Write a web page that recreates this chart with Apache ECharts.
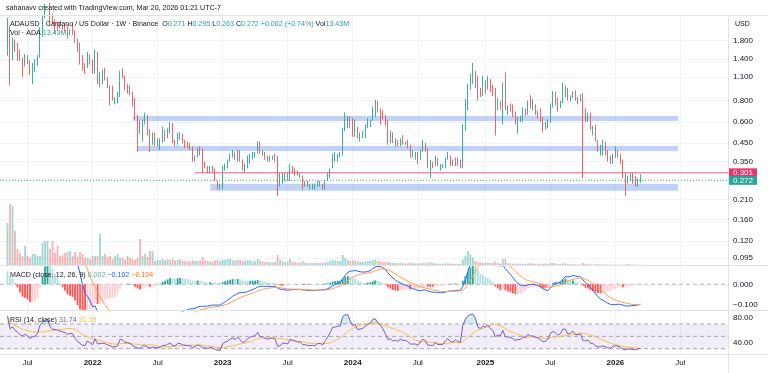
<!DOCTYPE html>
<html><head><meta charset="utf-8">
<script src="https://cdn.jsdelivr.net/npm/echarts@6/dist/echarts.min.js"></script>
<style>html,body{margin:0;padding:0;background:#fff}#c{width:768px;height:373px}</style>
</head><body><div id="c"></div>
<script>
// ---------------- DATA ----------------
// weekly candles ADAUSD, first week 2021-05-10 ... last week 2026-03-16 : [open, high, low, close]
const weeklyOHLC = [
[1.63,2.46,1.47,2.07],[2.07,2.20,0.98,1.63],[1.63,1.88,1.38,1.77],[1.77,1.83,1.55,1.62],[1.62,1.75,1.37,1.52],
[1.52,1.60,1.37,1.40],[1.40,1.44,1.10,1.32],[1.32,1.50,1.27,1.42],[1.42,1.48,1.31,1.34],[1.34,1.38,1.13,1.18],
[1.18,1.33,1.00,1.28],[1.28,1.40,1.18,1.32],[1.32,1.48,1.28,1.45],[1.45,2.16,1.43,2.10],[2.10,2.55,1.90,2.45],
[2.45,2.97,2.45,2.80],[2.80,3.10,2.55,2.86],[2.86,3.00,2.20,2.45],[2.45,2.60,2.25,2.30],[2.30,2.40,2.00,2.28],
[2.28,2.32,2.05,2.25],[2.25,2.32,2.12,2.18],[2.18,2.22,2.08,2.15],[2.15,2.25,2.05,2.10],[2.10,2.25,1.85,2.00],
[2.00,2.10,1.93,2.06],[2.06,2.30,1.95,2.05],[2.05,2.07,1.75,1.80],[1.80,1.85,1.55,1.57],[1.57,1.75,1.30,1.42],
[1.42,1.48,1.20,1.27],[1.27,1.33,1.15,1.26],[1.26,1.55,1.24,1.48],[1.48,1.50,1.30,1.33],[1.33,1.40,1.15,1.19],
[1.19,1.60,1.15,1.50],[1.50,1.55,1.00,1.08],[1.08,1.18,0.96,1.10],[1.10,1.22,1.00,1.12],[1.12,1.25,1.05,1.08],
[1.08,1.10,0.95,0.97],[0.97,0.98,0.75,0.93],[0.93,0.98,0.80,0.81],[0.81,0.84,0.76,0.82],[0.82,0.90,0.77,0.85],
[0.85,1.20,0.84,1.15],[1.15,1.24,1.08,1.10],[1.10,1.12,0.92,0.95],[0.95,1.00,0.88,0.93],[0.93,0.99,0.86,0.88],
[0.88,0.90,0.74,0.76],[0.76,0.83,0.62,0.63],[0.63,0.66,0.40,0.56],[0.56,0.61,0.51,0.52],[0.52,0.62,0.46,0.60],
[0.60,0.68,0.58,0.61],[0.61,0.66,0.50,0.53],[0.53,0.54,0.40,0.46],[0.46,0.52,0.44,0.49],[0.49,0.52,0.43,0.45],
[0.45,0.48,0.43,0.45],[0.45,0.48,0.41,0.46],[0.46,0.56,0.45,0.51],[0.51,0.54,0.46,0.50],[0.50,0.55,0.48,0.53],
[0.53,0.60,0.51,0.56],[0.56,0.59,0.45,0.46],[0.46,0.47,0.43,0.45],[0.45,0.52,0.44,0.50],[0.50,0.52,0.47,0.50],
[0.50,0.51,0.45,0.45],[0.45,0.47,0.42,0.44],[0.44,0.46,0.42,0.43],[0.43,0.45,0.41,0.42],[0.42,0.43,0.35,0.37],
[0.37,0.38,0.35,0.38],[0.38,0.42,0.37,0.41],[0.41,0.43,0.38,0.38],[0.38,0.42,0.30,0.33],[0.33,0.35,0.32,0.32],
[0.32,0.33,0.30,0.31],[0.31,0.33,0.30,0.32],[0.32,0.33,0.30,0.31],[0.31,0.32,0.27,0.27],[0.27,0.27,0.24,0.25],
[0.25,0.26,0.24,0.25],[0.25,0.33,0.24,0.32],[0.32,0.34,0.31,0.34],[0.34,0.36,0.32,0.35],[0.35,0.39,0.35,0.38],
[0.38,0.41,0.37,0.39],[0.39,0.40,0.36,0.37],[0.37,0.41,0.35,0.40],[0.40,0.41,0.35,0.36],[0.36,0.36,0.31,0.32],
[0.32,0.34,0.30,0.33],[0.33,0.38,0.32,0.36],[0.36,0.39,0.34,0.38],[0.38,0.40,0.36,0.39],[0.39,0.40,0.37,0.40],
[0.40,0.46,0.39,0.44],[0.44,0.46,0.39,0.39],[0.39,0.41,0.38,0.39],[0.39,0.40,0.36,0.37],[0.37,0.38,0.35,0.36],
[0.36,0.38,0.35,0.37],[0.37,0.38,0.36,0.37],[0.37,0.39,0.35,0.36],[0.36,0.38,0.22,0.26],[0.26,0.30,0.25,0.27],
[0.27,0.30,0.26,0.29],[0.29,0.30,0.27,0.29],[0.29,0.30,0.27,0.28],[0.28,0.34,0.27,0.32],[0.32,0.33,0.30,0.31],
[0.31,0.32,0.29,0.30],[0.30,0.31,0.29,0.29],[0.29,0.30,0.28,0.29],[0.29,0.29,0.24,0.26],[0.26,0.27,0.25,0.26],
[0.26,0.27,0.25,0.25],[0.25,0.26,0.24,0.25],[0.25,0.26,0.24,0.25],[0.25,0.26,0.24,0.25],[0.25,0.27,0.25,0.26],
[0.26,0.27,0.25,0.26],[0.26,0.26,0.24,0.25],[0.25,0.27,0.24,0.27],[0.27,0.30,0.27,0.29],[0.29,0.32,0.28,0.32],
[0.32,0.39,0.32,0.37],[0.37,0.40,0.35,0.37],[0.37,0.39,0.35,0.38],[0.38,0.40,0.37,0.38],[0.38,0.55,0.38,0.55],
[0.55,0.68,0.53,0.61],[0.61,0.65,0.55,0.62],[0.62,0.65,0.55,0.57],[0.57,0.63,0.49,0.53],[0.53,0.62,0.49,0.55],
[0.55,0.56,0.48,0.50],[0.50,0.52,0.46,0.51],[0.51,0.53,0.48,0.52],[0.52,0.58,0.48,0.56],[0.56,0.63,0.55,0.59],
[0.59,0.62,0.56,0.62],[0.62,0.74,0.61,0.72],[0.72,0.81,0.64,0.74],[0.74,0.80,0.68,0.70],[0.70,0.72,0.58,0.68],
[0.68,0.70,0.62,0.64],[0.64,0.66,0.57,0.58],[0.58,0.62,0.44,0.48],[0.48,0.53,0.45,0.49],[0.49,0.52,0.45,0.45],
[0.45,0.48,0.43,0.46],[0.46,0.47,0.43,0.44],[0.44,0.48,0.43,0.47],[0.47,0.50,0.44,0.45],[0.45,0.46,0.44,0.45],
[0.45,0.47,0.42,0.43],[0.43,0.44,0.37,0.39],[0.39,0.41,0.37,0.39],[0.39,0.40,0.36,0.39],[0.39,0.40,0.34,0.37],
[0.37,0.41,0.36,0.40],[0.40,0.47,0.40,0.43],[0.43,0.45,0.40,0.41],[0.41,0.42,0.32,0.34],[0.34,0.36,0.28,0.34],
[0.34,0.35,0.32,0.33],[0.33,0.38,0.33,0.36],[0.36,0.37,0.33,0.33],[0.33,0.34,0.31,0.33],[0.33,0.34,0.32,0.33],
[0.33,0.37,0.32,0.36],[0.36,0.40,0.36,0.38],[0.38,0.38,0.33,0.35],[0.35,0.36,0.33,0.34],[0.34,0.37,0.33,0.36],
[0.36,0.37,0.33,0.34],[0.34,0.36,0.32,0.33],[0.33,0.58,0.32,0.57],[0.57,0.82,0.53,0.78],[0.78,1.00,0.70,0.98],
[0.98,1.15,0.93,1.10],[1.10,1.33,1.00,1.15],[1.15,1.20,0.95,1.08],[1.08,1.12,0.80,0.90],[0.90,0.95,0.84,0.86],
[0.86,1.12,0.85,0.98],[0.98,1.05,0.88,0.95],[0.95,1.12,0.93,1.05],[1.05,1.07,0.90,0.96],[0.96,0.99,0.85,0.92],
[0.92,0.95,0.50,0.72],[0.72,0.83,0.70,0.79],[0.79,0.80,0.71,0.75],[0.75,1.02,0.58,0.98],[0.98,1.17,0.70,0.73],
[0.73,0.75,0.66,0.73],[0.73,0.77,0.69,0.71],[0.71,0.76,0.64,0.66],[0.66,0.69,0.58,0.59],[0.59,0.64,0.51,0.62],
[0.62,0.65,0.60,0.62],[0.62,0.73,0.60,0.70],[0.70,0.72,0.65,0.67],[0.67,0.80,0.66,0.78],[0.78,0.86,0.72,0.73],
[0.73,0.82,0.70,0.73],[0.73,0.76,0.66,0.69],[0.69,0.70,0.63,0.68],[0.68,0.72,0.60,0.62],[0.62,0.64,0.52,0.56],
[0.56,0.60,0.54,0.57],[0.57,0.62,0.55,0.61],[0.61,0.77,0.59,0.77],[0.77,0.91,0.73,0.83],[0.83,0.90,0.75,0.80],
[0.80,0.83,0.69,0.74],[0.74,0.80,0.72,0.78],[0.78,1.02,0.77,0.93],[0.93,0.98,0.84,0.93],[0.93,0.95,0.80,0.81],
[0.81,0.86,0.79,0.84],[0.84,0.91,0.83,0.90],[0.90,0.92,0.80,0.82],[0.82,0.84,0.76,0.81],[0.81,0.87,0.79,0.84],
[0.84,0.89,0.28,0.66],[0.66,0.72,0.60,0.64],[0.64,0.68,0.60,0.66],[0.66,0.68,0.54,0.55],[0.55,0.57,0.50,0.55],
[0.55,0.58,0.46,0.46],[0.46,0.47,0.40,0.42],[0.42,0.44,0.38,0.42],[0.42,0.47,0.38,0.44],[0.44,0.46,0.38,0.40],
[0.40,0.41,0.35,0.37],[0.37,0.38,0.34,0.35],[0.35,0.39,0.34,0.38],[0.38,0.43,0.37,0.39],[0.39,0.41,0.37,0.38],
[0.38,0.39,0.34,0.35],[0.35,0.36,0.28,0.29],[0.29,0.30,0.22,0.27],[0.27,0.29,0.26,0.28],[0.28,0.30,0.27,0.28],
[0.28,0.30,0.26,0.27],[0.27,0.29,0.25,0.26],[0.26,0.28,0.25,0.270],[0.271,0.295,0.263,0.272]
];
// weekly volume, millions of ADA
const weeklyVolume = [
430,620,600,350,170,130,100,200,100,80, 120,120,100,100,230,250,250,170,250,130,
200,100,110,130,140,150,100,140,90,140, 120,80,80,70,100,100,100,320,100,120,
90,100,70,100,120,80,80,60,100,80, 70,60,80,270,100,120,90,150,150,50,
60,55,70,60,65,60,70,55,60,70,55,50,50,45,60,50,50,55,90,60,50,45,45,55,60,50,
60,65,70,75,60,55,65,60,50,55,60,55,45,50,70,55,45,40,40,35,35,40,
110,60,45,40,40,70,45,40,35,35,50,35,30,30,30,30,30,30,35,35,45,50,60,
55,50,50,110,80,60,50,55,50,45,40,40,45,50,55,60,65,50,45,40,
40,45,35,30,30,25,30,28,25,25,35,30,25,25,25,30,28,30,40,28,25,25,22,22,25,28,25,22,22,22,20,
67,100,150,117,83,50,40,35,30,35,35,30,30,45,30,25,70,70,
30,25,22,22,25,20,22,20,25,30,25,22,20,20,22,25,20,30,30,25,22,20,28,25,20,18,18,18,16,16,
30,22,18,18,16,18,20,16,15,16,15,14,13,14,15,14,13,16,20,16,14,13,12,13.43
];
// indicator state carried in from before the first drawn week (estimated from the panes)
const indicatorSeed = { ema12: 1.35, ema26: 1.0, signal: 0.30, avgGain: 0.06, avgLoss: 0.02 };
const firstWeek = [2021, 3, 19];      // first category (3 weeks before the first candle)
const weeksBeforeData = 3;
const totalWeeks = 292;               // axis runs on into Nov 2026
const priceTicks = [1.8, 1.4, 1.1, 0.8, 0.6, 0.45, 0.35, 0.21, 0.16, 0.12, 0.095];
const macdTicks = [0, -0.1];
const rsiTicks = [80, 40];
const rsiLevels = [70, 50, 30];
const zones = [            // [from week, to week, low, high]
  ['2022-04-25', '2026-06-29', 0.607, 0.650],
  ['2022-05-09', '2026-06-29', 0.405, 0.433],
  ['2022-11-28', '2026-06-29', 0.236, 0.259]
];
const resistanceRay = ['2022-10-17', 0.301];
const lastPrice = 0.272;

// ---------------- BUILD ----------------
const categories = [];
for (let i = 0; i < totalWeeks; i++) {
  const d = new Date(Date.UTC(firstWeek[0], firstWeek[1], firstWeek[2]) + i * 7 * 86400000);
  categories.push(d.toISOString().slice(0, 10));
}
const lastCat = categories[categories.length - 1];
const closes = weeklyOHLC.map(r => r[3]);
function ema(src, n, seed) { const k = 2 / (n + 1); const o = []; src.forEach((v, i) => { const prev = i === 0 ? seed : o[i - 1]; o.push(v * k + prev * (1 - k)); }); return o; }
function rsiCalc(src, n, g0, l0, firstOpen) {
  const o = []; let ag = g0, al = l0;
  for (let i = 0; i < src.length; i++) {
    const ch = src[i] - (i === 0 ? firstOpen : src[i - 1]), g = Math.max(ch, 0), l = Math.max(-ch, 0);
    ag = (ag * (n - 1) + g) / n; al = (al * (n - 1) + l) / n;
    o.push(al === 0 ? 100 : 100 - 100 / (1 + ag / al));
  }
  return o;
}
function sma(src, n) { return src.map((v, i) => { const w = src.slice(Math.max(0, i - n + 1), i + 1); return w.reduce((a, b) => a + b, 0) / w.length; }); }
const e12 = ema(closes, 12, indicatorSeed.ema12), e26 = ema(closes, 26, indicatorSeed.ema26);
const macd = e12.map((v, i) => v - e26[i]);
const signal = ema(macd, 9, indicatorSeed.signal);
const hist = macd.map((v, i) => v - signal[i]);
const rsi = rsiCalc(closes, 14, indicatorSeed.avgGain, indicatorSeed.avgLoss, weeklyOHLC[0][0]);
const rsiMa = sma(rsi, 14);

const at = i => i + weeksBeforeData;
const candleData = weeklyOHLC.map((r, i) => [at(i), r[0], r[3], r[2], r[1]]);
const volData = weeklyVolume.map((v, i) => ({ value: [at(i), v], itemStyle: { color: weeklyOHLC[i][3] >= weeklyOHLC[i][0] ? 'rgba(38,166,154,0.45)' : 'rgba(239,83,80,0.45)' } }));
const histData = hist.map((v, i) => {
  const p = i > 0 ? hist[i - 1] : v;
  const c = v >= 0 ? (v > p ? '#26a69a' : '#b2dfdb') : (v < p ? '#ff5252' : '#ffcdd2');
  return { value: [at(i), v], itemStyle: { color: c } };
});
const pair = arr => arr.map((v, i) => [at(i), v == null ? '-' : v]);

const isLabelWeek = (idx, val) => { const d = new Date(val + 'T00:00:00Z'); return (d.getUTCMonth() === 0 || d.getUTCMonth() === 6) && d.getUTCDate() <= 7; };
const fmtDate = val => { const d = new Date(val + 'T00:00:00Z'); return d.getUTCMonth() === 0 ? '{y|' + d.getUTCFullYear() + '}' : 'Jul'; };
const FONT = "'Liberation Sans', Arial, sans-serif";
const TXT = '#131722';

const grids = [
  { left: 0, right: 40, top: 16, height: 250 },
  { left: 0, right: 40, top: 16, height: 250 },
  { left: 0, right: 40, top: 266, height: 45 },
  { left: 0, right: 40, top: 311, height: 44 }
].map(g => Object.assign(g, { containLabel: false, outerBoundsMode: 'none' }));

const xAxes = [0, 1, 2, 3].map(gi => ({
  type: 'category', gridIndex: gi, data: categories, boundaryGap: false,
  axisLine: { show: false }, axisTick: { show: false },
  axisLabel: { show: gi === 3, interval: isLabelWeek, formatter: fmtDate, color: TXT, fontSize: 8, fontFamily: FONT, margin: 4,
    rich: { y: { fontWeight: 'bold', fontSize: 8, color: TXT, fontFamily: FONT } } },
  splitLine: { show: gi !== 1, interval: isLabelWeek, lineStyle: { color: '#f0f3fa', width: 1 } }
}));

const yLabel = (vals, fmt) => ({ show: true, customValues: vals, formatter: fmt, color: TXT, fontSize: 8, fontFamily: FONT, margin: 5 });
const yAxes = [
  { type: 'log', logBase: 10, gridIndex: 0, position: 'right', min: 0.0853, max: 2.515,
    axisLine: { show: false }, axisTick: { show: false, customValues: priceTicks },
    axisLabel: yLabel(priceTicks, v => (+v).toFixed(3)),
    splitLine: { show: true, lineStyle: { color: '#f0f3fa' } } },
  { type: 'value', gridIndex: 1, min: 0, max: 2500, show: false, splitLine: { show: false } },
  { type: 'value', gridIndex: 2, position: 'right', min: -0.1335, max: 0.0915,
    axisLine: { show: false }, axisTick: { show: false, customValues: macdTicks },
    axisLabel: yLabel(macdTicks, v => (v < 0 ? '\u2212' : '') + Math.abs(v).toFixed(3)),
    splitLine: { show: false } },
  { type: 'value', gridIndex: 3, position: 'right', min: 19.8, max: 91.05,
    axisLine: { show: false }, axisTick: { show: false, customValues: rsiTicks },
    axisLabel: yLabel(rsiTicks, v => (+v).toFixed(2)),
    splitLine: { show: false } }
];

const endBox = (txt, bg) => ({ show: true, formatter: txt, color: '#fff', backgroundColor: bg,
  padding: [1, 4, 0, 4], fontSize: 8, fontFamily: FONT, distance: 1, align: 'left', verticalAlign: 'middle' });

const series = [
  { type: 'line', xAxisIndex: 0, yAxisIndex: 0, data: [], z: 1, silent: true,
    markArea: { silent: true, itemStyle: { color: 'rgba(66,118,230,0.33)' },
      data: zones.map(z => [{ xAxis: z[0], yAxis: z[3] }, { xAxis: z[1], yAxis: z[2] }]) } },
  { type: 'bar', xAxisIndex: 1, yAxisIndex: 1, data: volData, barWidth: 1.8, z: 1, silent: true },
  { type: 'candlestick', xAxisIndex: 0, yAxisIndex: 0, data: candleData, encode: { x: 0, y: [1, 2, 3, 4] },
    barWidth: 1.3, clip: true, z: 3, silent: true,
    itemStyle: { color: '#26a69a', color0: '#ef5350', borderColor: '#26a69a', borderColor0: '#ef5350', borderWidth: 0.9 } },
  { type: 'line', xAxisIndex: 0, yAxisIndex: 0, z: 4, silent: true, showSymbol: false, symbol: 'none',
    data: [[resistanceRay[0], resistanceRay[1]], [lastCat, resistanceRay[1]]],
    itemStyle: { color: '#e35d80' }, lineStyle: { color: '#e35d80', width: 1, type: 'solid' },
    endLabel: endBox(resistanceRay[1].toFixed(3), '#e8336b') },
  { type: 'line', xAxisIndex: 0, yAxisIndex: 0, z: 4, silent: true, showSymbol: false, symbol: 'none',
    data: [[categories[0], lastPrice], [lastCat, lastPrice]],
    itemStyle: { color: '#26a69a' }, lineStyle: { color: '#26a69a', width: 1, type: [1, 2] },
    endLabel: endBox(lastPrice.toFixed(3), '#26a69a') },
  { type: 'bar', xAxisIndex: 2, yAxisIndex: 2, data: histData, barWidth: 1.8, silent: true },
  { type: 'line', xAxisIndex: 2, yAxisIndex: 2, z: 1, silent: true, showSymbol: false, symbol: 'none',
    data: [[categories[0], 0], [lastCat, 0]], lineStyle: { color: '#b2b5be', width: 1, type: [4, 3] } },
  { type: 'line', xAxisIndex: 2, yAxisIndex: 2, data: pair(macd), showSymbol: false, lineStyle: { color: '#2962ff', width: 1 }, silent: true },
  { type: 'line', xAxisIndex: 2, yAxisIndex: 2, data: pair(signal), showSymbol: false, lineStyle: { color: '#ff9d4d', width: 1 }, silent: true },
  { type: 'line', xAxisIndex: 3, yAxisIndex: 3, data: pair(rsi.map(v => Math.max(v, 70))), showSymbol: false, silent: true,
    lineStyle: { width: 0 }, areaStyle: { origin: 70, color: 'rgba(38,166,154,0.3)' },
    markArea: { silent: true, itemStyle: { color: 'rgba(126,87,194,0.1)' }, data: [[{ yAxis: 70 }, { yAxis: 30 }]] } },
  { type: 'line', xAxisIndex: 3, yAxisIndex: 3, data: pair(rsi.map(v => Math.min(v, 30))), showSymbol: false, silent: true,
    lineStyle: { width: 0 }, areaStyle: { origin: 30, color: 'rgba(239,83,80,0.3)' } }
].concat(rsiLevels.map(v => ({ type: 'line', xAxisIndex: 3, yAxisIndex: 3, z: 1, silent: true, showSymbol: false, symbol: 'none',
    data: [[categories[0], v], [lastCat, v]], lineStyle: { color: '#a3a6af', width: 1, type: [4, 3] } })))
.concat([
  { type: 'line', xAxisIndex: 3, yAxisIndex: 3, data: pair(rsiMa), showSymbol: false, lineStyle: { color: '#f5c242', width: 1 }, silent: true },
  { type: 'line', xAxisIndex: 3, yAxisIndex: 3, data: pair(rsi), showSymbol: false, lineStyle: { color: '#7e57c2', width: 1 }, silent: true }
]);

const FS = 7.1;
const T = (left, top, text, rich) => ({ type: 'text', left, top, z: 100, silent: true,
  style: { text, fill: TXT, font: FS + 'px ' + FONT, rich: rich || {} } });
const rs = c => ({ fill: c, fontSize: FS, fontFamily: FONT });
const richV = { v: rs('#26a69a') };
const line = (x1, y1, x2, y2) => ({ type: 'line', z: 100, silent: true, shape: { x1, y1, x2, y2 }, style: { stroke: '#e0e3eb', lineWidth: 1 } });

const graphic = [
  T(6, 5, 'sahanavv created with TradingView.com, Mar 20, 2026 01:21 UTC-7'),
  T(10, 21, 'ADAUSD \u00b7 Cardano / US Dollar \u00b7 1W \u00b7 Binance  O{v|0.271} H{v|0.295} L{v|0.263} C{v|0.272} {v|+0.002 (+0.74%)} Vol{v|13.43M}', richV),
  T(10, 30, 'Vol \u00b7 ADA {v|13.43M}', richV),
  T(10, 272, 'MACD (close, 12, 26, 9) {g|0.002} {b|\u22120.102} {o|\u22120.104}', { g: rs('#4db6ac'), b: rs('#2962ff'), o: rs('#ff6d00') }),
  T(10, 317, 'RSI (14, close) {p|31.74} {y|31.35}', { p: rs('#7e57c2'), y: rs('#f5c242') }),
  T(735, 21, 'USD'),
  line(0, 15.5, 768, 15.5), line(0, 265.5, 768, 265.5), line(0, 310.5, 768, 310.5), line(0, 354.5, 768, 354.5),
  line(728.5, 15.5, 728.5, 373)
];

const chart = echarts.init(document.getElementById('c'), null, { renderer: 'canvas' });
chart.setOption({
  animation: false, backgroundColor: '#fff', textStyle: { fontFamily: FONT },
  grid: grids, xAxis: xAxes, yAxis: yAxes, series, graphic
});
</script></body></html>
